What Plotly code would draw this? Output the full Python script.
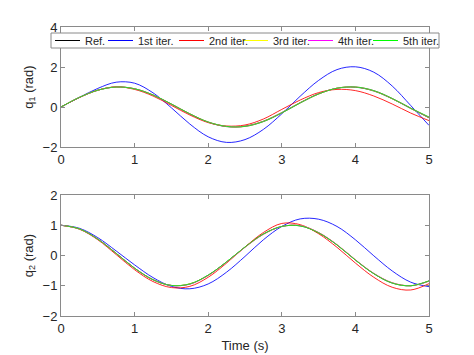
import plotly.graph_objects as go
from plotly.subplots import make_subplots

# ---------------- data ----------------
t = [0, 0.25, 0.5, 0.75, 1.0, 1.25, 1.5, 1.75, 2.0, 2.25, 2.5,
     2.75, 3.0, 3.25, 3.5, 3.75, 4.0, 4.25, 4.5, 4.75, 5.0]

series_names = ["Ref.", "1st iter.", "2nd iter.", "3rd iter.", "4th iter.", "5th iter."]
series_colors = ["#000000", "#0000ff", "#ff0000", "#ffff00", "#ff00ff", "#00ff00"]

q1_ref = [0, 0.48, 0.84, 1.0, 0.91, 0.60, 0.14, -0.35, -0.76, -0.98, -0.96,
          -0.71, -0.28, 0.22, 0.66, 0.94, 0.99, 0.80, 0.41, -0.07, -0.54]
q1_it1 = [0, 0.48, 0.93, 1.24, 1.19, 0.71, -0.04, -0.85, -1.49, -1.77, -1.63,
          -1.12, -0.34, 0.54, 1.33, 1.87, 2.01, 1.74, 1.05, 0.08, -0.92]
q1_it2 = [0, 0.47, 0.84, 1.01, 0.88, 0.55, 0.08, -0.40, -0.78, -0.95, -0.90,
          -0.60, -0.12, 0.35, 0.72, 0.88, 0.82, 0.55, 0.15, -0.30, -0.68]
q1_it3 = [0, 0.48, 0.84, 1.0, 0.91, 0.60, 0.15, -0.34, -0.75, -0.97, -0.97,
          -0.72, -0.29, 0.21, 0.65, 0.94, 1.0, 0.81, 0.42, -0.06, -0.52]
q1_it4 = [0, 0.48, 0.84, 1.0, 0.91, 0.60, 0.15, -0.34, -0.75, -0.97, -0.97,
          -0.73, -0.30, 0.20, 0.65, 0.94, 1.0, 0.82, 0.43, -0.05, -0.51]
q1_it5 = [0, 0.48, 0.84, 1.0, 0.91, 0.60, 0.15, -0.34, -0.75, -0.97, -0.97,
          -0.73, -0.30, 0.20, 0.65, 0.94, 1.0, 0.82, 0.43, -0.05, -0.50]

q2_ref = [1, 0.88, 0.54, 0.07, -0.42, -0.80, -0.99, -0.94, -0.65, -0.21, 0.28,
          0.71, 0.96, 0.98, 0.75, 0.35, -0.15, -0.60, -0.91, -1.0, -0.84]
q2_it1 = [1, 0.90, 0.59, 0.15, -0.31, -0.73, -1.02, -1.10, -0.94, -0.55, -0.03,
          0.52, 0.96, 1.21, 1.20, 0.96, 0.52, -0.01, -0.51, -0.88, -1.03]
q2_it2 = [1, 0.87, 0.52, 0.03, -0.47, -0.86, -1.06, -1.02, -0.72, -0.25, 0.28,
          0.76, 1.06, 1.02, 0.72, 0.27, -0.25, -0.72, -1.05, -1.14, -0.93]
q2_it3 = [1, 0.88, 0.54, 0.07, -0.42, -0.80, -0.99, -0.94, -0.66, -0.22, 0.27,
          0.70, 0.96, 0.99, 0.76, 0.36, -0.14, -0.59, -0.90, -1.0, -0.85]
q2_it4 = [1, 0.88, 0.54, 0.07, -0.42, -0.80, -0.99, -0.95, -0.66, -0.22, 0.27,
          0.70, 0.96, 0.99, 0.76, 0.36, -0.14, -0.59, -0.90, -1.0, -0.85]
q2_it5 = [1, 0.88, 0.54, 0.07, -0.42, -0.80, -0.99, -0.94, -0.65, -0.21, 0.28,
          0.71, 0.96, 0.98, 0.75, 0.35, -0.15, -0.60, -0.91, -1.0, -0.84]

x_ticks = [0, 1, 2, 3, 4, 5]
y1_ticks = [-2, 0, 2, 4]
y2_ticks = [-2, -1, 0, 1, 2]

q1_all = [q1_ref, q1_it1, q1_it2, q1_it3, q1_it4, q1_it5]
q2_all = [q2_ref, q2_it1, q2_it2, q2_it3, q2_it4, q2_it5]

# ---------------- layout constants ----------------
W, H = 474, 355
ML, MR, MT, MB = 61, 45, 27, 39
PW, PH = W - ML - MR, H - MT - MB
FONT = "Liberation Sans, Arial, sans-serif"
AXC = "#8a8a8a"
TXC = "#262626"

top_dom = [(316 - 147) / PH, 1.0]
bot_dom = [0.0, (316 - 195) / PH]

fig = make_subplots(rows=2, cols=1)

for vals, name, col in zip(q1_all, series_names, series_colors):
    fig.add_trace(go.Scatter(x=t, y=vals, mode="lines", name=name, showlegend=False,
                             line=dict(color=col, width=0.85, shape="spline", smoothing=1.0)),
                  row=1, col=1)
for vals, name, col in zip(q2_all, series_names, series_colors):
    fig.add_trace(go.Scatter(x=t, y=vals, mode="lines", name=name, showlegend=False,
                             line=dict(color=col, width=0.85, shape="spline", smoothing=1.0)),
                  row=2, col=1)

axis_common = dict(showline=True, linecolor=AXC, linewidth=1, mirror="ticks",
                   ticks="inside", ticklen=4, tickcolor=AXC, tickwidth=1,
                   showgrid=False, zeroline=False, automargin=False,
                   tickfont=dict(family=FONT, size=13, color=TXC))

fig.update_xaxes(range=[0, 5], tickvals=x_ticks, **axis_common)
fig.update_xaxes(domain=[0, 1], row=1, col=1)
fig.update_xaxes(domain=[0, 1], row=2, col=1,
                 title=dict(text="Time (s)", font=dict(family=FONT, size=13, color=TXC), standoff=6))
fig.update_yaxes(range=[-2, 4], tickvals=y1_ticks, domain=top_dom, row=1, col=1,
                 title=dict(text="q<sub>1</sub> (rad)", font=dict(family=FONT, size=13, color=TXC), standoff=6),
                 **axis_common)
fig.update_yaxes(range=[-2, 2], tickvals=y2_ticks, domain=bot_dom, row=2, col=1,
                 title=dict(text="q<sub>2</sub> (rad)", font=dict(family=FONT, size=13, color=TXC), standoff=6),
                 **axis_common)

# ---------------- legend (drawn in paper coordinates) ----------------
def px(xp):
    return (xp - ML) / PW

def py(yp):
    return (MT + PH - yp) / PH

leg_box = (51, 33, 439, 48)
fig.add_shape(type="rect", xref="paper", yref="paper",
              x0=px(leg_box[0]), x1=px(leg_box[2]), y0=py(leg_box[3]), y1=py(leg_box[1]),
              line=dict(color=AXC, width=1), fillcolor="white", layer="above")
entry_starts = [55, 108, 179, 243, 308, 373]
ymid = (leg_box[1] + leg_box[3]) / 2
for xs, name, col in zip(entry_starts, series_names, series_colors):
    fig.add_shape(type="line", xref="paper", yref="paper",
                  x0=px(xs), x1=px(xs + 25), y0=py(ymid), y1=py(ymid),
                  line=dict(color=col, width=1), layer="above")
    fig.add_annotation(xref="paper", yref="paper", x=px(xs + 28), y=py(ymid),
                       text=name, showarrow=False, xanchor="left", yanchor="middle",
                       font=dict(family=FONT, size=11, color=TXC))

fig.update_layout(width=W, height=H, margin=dict(l=ML, r=MR, t=MT, b=MB, autoexpand=False),
                  paper_bgcolor="white", plot_bgcolor="white",
                  font=dict(family=FONT, color=TXC))

fig.write_html("out.html", config={"displayModeBar": False},
               post_script="document.body.style.margin='0';")
